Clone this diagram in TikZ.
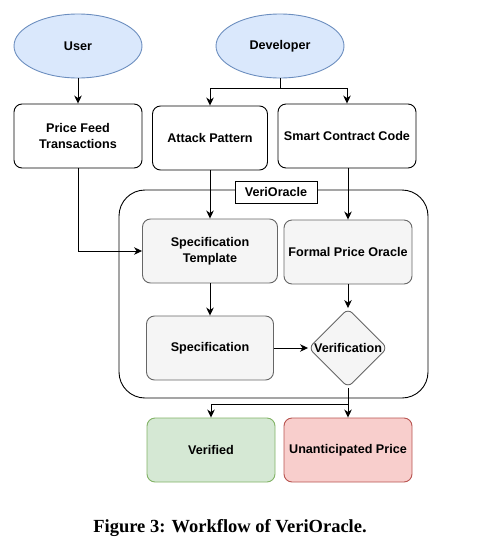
\documentclass[tikz,border=0pt]{standalone}
\usepackage{fontspec}
\setmainfont{Liberation Serif}
\newfontfamily\boxfont{Liberation Sans}
\usepackage{tikz}
\usetikzlibrary{arrows.meta,shapes.geometric}

\definecolor{actorfill}{HTML}{DAE8FC}
\definecolor{actordraw}{HTML}{6C8EBF}
\definecolor{stepfill}{HTML}{F5F5F5}
\definecolor{stepdraw}{HTML}{666666}
\definecolor{okfill}{HTML}{D5E8D4}
\definecolor{okdraw}{HTML}{82B366}
\definecolor{badfill}{HTML}{F8CECC}
\definecolor{baddraw}{HTML}{B85450}

\begin{document}
\begin{tikzpicture}[x=1pt,y=-1pt,->,>={Stealth[length=8pt,width=7.5pt,inset=2.5pt]},
  line width=0.9pt,
  font=\boxfont\bfseries\fontsize{12.6}{16.5}\selectfont,
  actor node/.style={ellipse,draw=actordraw,fill=actorfill,
    minimum width=128pt,minimum height=64pt,inner sep=0pt},
  plain node/.style={rectangle,rounded corners=8pt,draw,fill=white,
    minimum width=128pt,minimum height=64pt,align=center,inner sep=2pt},
  step node/.style={plain node,draw=stepdraw,fill=stepfill},
  ok node/.style={plain node,draw=okdraw,fill=okfill},
  bad node/.style={plain node,draw=baddraw,fill=badfill}]

  \useasboundingbox (0,0) rectangle (484,547);

  % container
  \node[draw,rounded corners=26pt,minimum width=309pt,minimum height=208pt]
    (oracle) at (273.5,294) {};
  \node[draw,fill=white,minimum width=82pt,minimum height=22pt,inner sep=0pt]
    (oraclelabel) at (276,192) {VeriOracle};

  % inputs
  \node[actor node] (user) at (78,46) {User};
  \node[actor node] (dev) at (280,46) {Developer};
  \node[plain node] (feed) at (78,136) {Price Feed\\Transactions};
  \node[plain node,minimum width=115pt] (attack) at (210,138) {Attack Pattern};
  \node[plain node,minimum width=138pt] (contract) at (347,136) {Smart Contract Code};

  % inside VeriOracle
  \node[step node,minimum width=135pt] (template) at (210,251) {Specification\\Template};
  \node[step node] (formal) at (348,252) {Formal Price Oracle};
  \node[step node,minimum width=127pt] (spec) at (210,348) {Specification};
  \node[diamond,draw=stepdraw,fill=stepfill,rounded corners=6pt,
    minimum width=79pt,minimum height=79pt,inner sep=0pt]
    (verif) at (348,348) {\makebox[0pt]{Verification}};

  % outputs
  \node[ok node] (verified) at (211,450) {Verified};
  \node[bad node] (unant) at (348,450) {Unanticipated Price};

  \coordinate (split) at (280,88);
  \coordinate (merge) at (348,404);

  \draw (user) -- (feed);
  \draw[-] (dev) -- (split);
  \draw (split) -| (attack);
  \draw (split) -| (contract);
  \draw (feed) |- (template);
  \draw (attack) -- (template);
  \draw (contract.south -| formal) -- (formal);
  \draw (template) -- (spec);
  \draw (formal) -- (verif);
  \draw (spec) -- (verif);
  \draw (verif) -- (unant);
  \draw (merge) -| (verified);

  % caption
  \node[font=\rmfamily\bfseries\fontsize{18.5}{22}\selectfont] (caption)
    at (230,528) {Figure 3: Workflow of VeriOracle.};
\end{tikzpicture}
\end{document}
